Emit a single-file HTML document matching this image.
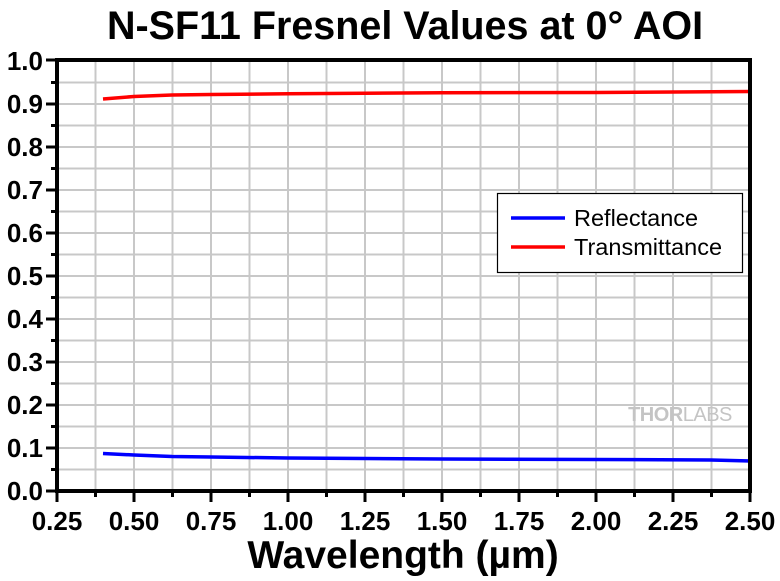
<!DOCTYPE html>
<html><head><meta charset="utf-8"><style>html,body{margin:0;padding:0;background:#fff}svg{display:block}</style></head>
<body>
<svg width="780" height="581" xmlns="http://www.w3.org/2000/svg" font-family="Liberation Sans, Arial, sans-serif">
<rect width="780" height="581" fill="#fff"/>
<g stroke="#c8c8c8" stroke-width="2">
<path d="M95.5 60V491M134 60V491M172.5 60V491M211 60V491M249.5 60V491M288 60V491M326.5 60V491M365 60V491M403.5 60V491M442 60V491M480.5 60V491M519 60V491M557.5 60V491M596 60V491M634.5 60V491M673 60V491M711.5 60V491"/>
<path d="M57 469.5H751M57 448H751M57 426.5H751M57 405H751M57 383.5H751M57 362H751M57 340.5H751M57 319H751M57 297.5H751M57 276H751M57 254.5H751M57 233H751M57 211.5H751M57 190H751M57 168.5H751M57 147H751M57 125.5H751M57 104H751M57 82.5H751"/>
</g>
<text x="680" y="421" font-size="20" font-weight="bold" fill="#c4c4c4" text-anchor="middle" letter-spacing="-0.5">THOR<tspan font-weight="normal">LABS</tspan></text>
<polyline fill="none" stroke="#f00" stroke-width="3.5" points="103,99 134,96.5 172,95 211,94.5 288,93.8 365,93.2 442,92.8 596,92.5 751,91.5"/>
<polyline fill="none" stroke="#00f" stroke-width="3.5" points="103,453.5 134,455 172,456.5 211,457 288,458 365,458.5 442,459 596,459.5 711,460 751,461"/>
<rect x="497.5" y="193.5" width="245" height="79" fill="#fff" stroke="#000" stroke-width="1.2"/>
<line x1="511" y1="218" x2="565" y2="218" stroke="#00f" stroke-width="3.5"/>
<line x1="511" y1="247" x2="565" y2="247" stroke="#f00" stroke-width="3.5"/>
<text x="574" y="226" font-size="23.5">Reflectance</text>
<text x="574" y="255" font-size="23.5">Transmittance</text>
<rect x="57" y="60" width="693" height="431" fill="none" stroke="#000" stroke-width="4"/>
<g stroke="#000" stroke-width="3">
<path d="M57 491H46M57 448H46M57 405H46M57 362H46M57 319H46M57 276H46M57 233H46M57 190H46M57 147H46M57 104H46M57 60H46"/>
<path d="M57 469.5H51M57 426.5H51M57 383.5H51M57 340.5H51M57 297.5H51M57 254.5H51M57 211.5H51M57 168.5H51M57 125.5H51M57 82.5H51"/>
<path d="M57 491V502M134 491V502M211 491V502M288 491V502M365 491V502M442 491V502M519 491V502M596 491V502M673 491V502M750 491V502"/>
<path d="M95.5 491V497M172.5 491V497M249.5 491V497M326.5 491V497M403.5 491V497M480.5 491V497M557.5 491V497M634.5 491V497M711.5 491V497"/>
</g>
<g font-size="26" font-weight="bold" text-anchor="end">
<text x="43" y="500">0.0</text><text x="43" y="457">0.1</text><text x="43" y="414">0.2</text><text x="43" y="371">0.3</text><text x="43" y="328">0.4</text><text x="43" y="285">0.5</text><text x="43" y="242">0.6</text><text x="43" y="199">0.7</text><text x="43" y="156">0.8</text><text x="43" y="113">0.9</text><text x="43" y="70">1.0</text>
</g>
<g font-size="26" font-weight="bold" text-anchor="middle">
<text x="57" y="530">0.25</text><text x="134" y="530">0.50</text><text x="211" y="530">0.75</text><text x="288" y="530">1.00</text><text x="365" y="530">1.25</text><text x="442" y="530">1.50</text><text x="519" y="530">1.75</text><text x="596" y="530">2.00</text><text x="673" y="530">2.25</text><text x="750" y="530">2.50</text>
</g>
<text x="403" y="568" font-size="39" font-weight="bold" text-anchor="middle">Wavelength (µm)</text>
<text x="405" y="39" font-size="39.5" font-weight="bold" text-anchor="middle">N-SF11 Fresnel Values at 0° AOI</text>
</svg>
</body></html>
